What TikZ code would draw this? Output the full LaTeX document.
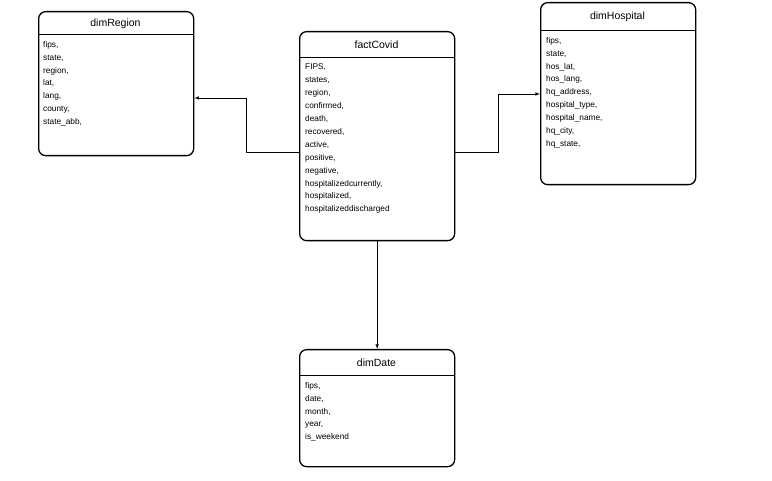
\documentclass[tikz,border=0pt]{standalone}
\usepackage{fontspec}
\setmainfont{Liberation Sans}
\begin{document}
\begin{tikzpicture}[x=1pt,y=-1pt,
  tbl/.style={draw,line width=1.3pt,rounded corners=7pt,anchor=north west,inner sep=0pt},
  ttl/.style={font=\fontsize{10.5}{12}\selectfont,anchor=center},
  body/.style={font=\fontsize{8.3}{12.9}\selectfont,anchor=north west,align=left,inner sep=0pt},
  hdr/.style={line width=1pt},
  conn/.style={-latex,line width=0.6pt}]
\useasboundingbox (0,0) rectangle (772,481);
% dimRegion
\node[tbl,minimum width=155pt,minimum height=144pt] (reg) at (38,11) {};
\draw[hdr] (38,35) -- (193,35);
\node[ttl] (regt) at (115.5,24) {dimRegion};
\node[body] (regb) at (43,41) {fips,\\state,\\region,\\lat,\\lang,\\county,\\state\_abb,};
% factCovid
\node[tbl,minimum width=155pt,minimum height=209pt] (fc) at (299,31) {};
\draw[hdr] (299,58) -- (454,58);
\node[ttl] (fct) at (376.5,45) {factCovid};
\node[body] (fcb) at (305,64) {FIPS,\\states,\\region,\\confirmed,\\death,\\recovered,\\active,\\positive,\\negative,\\hospitalizedcurrently,\\hospitalized,\\hospitalizeddischarged};
% dimHospital
\node[tbl,minimum width=155pt,minimum height=182pt] (hos) at (540,2) {};
\draw[hdr] (540,31) -- (695,31);
\node[ttl] (host) at (617.5,17) {dimHospital};
\node[body] (hosb) at (546,37) {fips,\\state,\\hos\_lat,\\hos\_lang,\\hq\_address,\\hospital\_type,\\hospital\_name,\\hq\_city,\\hq\_state,};
% dimDate
\node[tbl,minimum width=155pt,minimum height=117pt] (dd) at (299,349) {};
\draw[hdr] (299,376) -- (454,376);
\node[ttl] (ddt) at (376.5,363) {dimDate};
\node[body] (ddb) at (305,382) {fips,\\date,\\month,\\year,\\is\_weekend};
% connectors
\coordinate (l1) at (246,152); \coordinate (l2) at (246,98);
\coordinate (r1) at (498,152); \coordinate (r2) at (498,94);
\draw[conn] (fc.west |- l1) -- (l1) -- (l2) -- (reg.east |- l2);
\draw[conn] (fc.east |- r1) -- (r1) -- (r2) -- (hos.west |- r2);
\draw[conn] (fc.south) -- (dd.north);
\end{tikzpicture}
\end{document}
